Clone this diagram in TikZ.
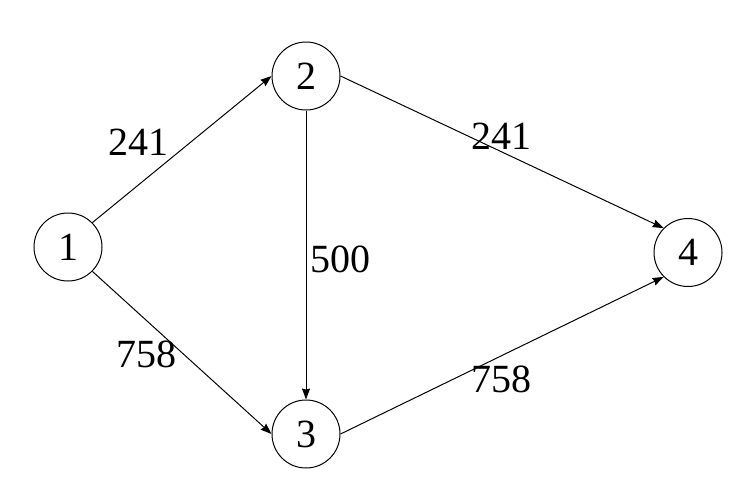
\documentclass[tikz,border=0pt]{standalone}
\usepackage{fontspec}
\setmainfont{Liberation Serif}
\usetikzlibrary{arrows.meta}
\begin{document}
\begin{tikzpicture}[x=1pt,y=-1pt,
  vtx/.style={circle,draw,line width=1pt,minimum size=68pt,inner sep=0pt,font=\fontsize{40}{40}\selectfont},
  edge/.style={line width=1pt,-{Stealth[length=11pt,width=8pt,inset=1pt]}},
  wlabel/.style={anchor=base west,inner sep=0pt,font=\fontsize{40}{40}\selectfont}]
\useasboundingbox (0,0) rectangle (754,493);
\node[vtx] (n1) at (68,247) {1};
\node[vtx] (n2) at (306,76) {2};
\node[vtx] (n3) at (306,434) {3};
\node[vtx] (n4) at (688,252.5) {4};
\draw[edge] (n1.north east) -- (n2.west);
\draw[edge] (n1.south east) -- (n3.west);
\draw[edge] (n2.south) -- (n3.north);
\draw[edge] (n2.east) -- (n4.north west);
\draw[edge] (n3.east) -- (n4.south west);
\node[wlabel] (l12) at (108,155) {241};
\node[wlabel] (l24) at (471,149.5) {241};
\node[wlabel] (l23) at (310,272) {500};
\node[wlabel] (l13) at (116,367) {758};
\node[wlabel] (l34) at (471,392) {758};
\end{tikzpicture}
\end{document}
